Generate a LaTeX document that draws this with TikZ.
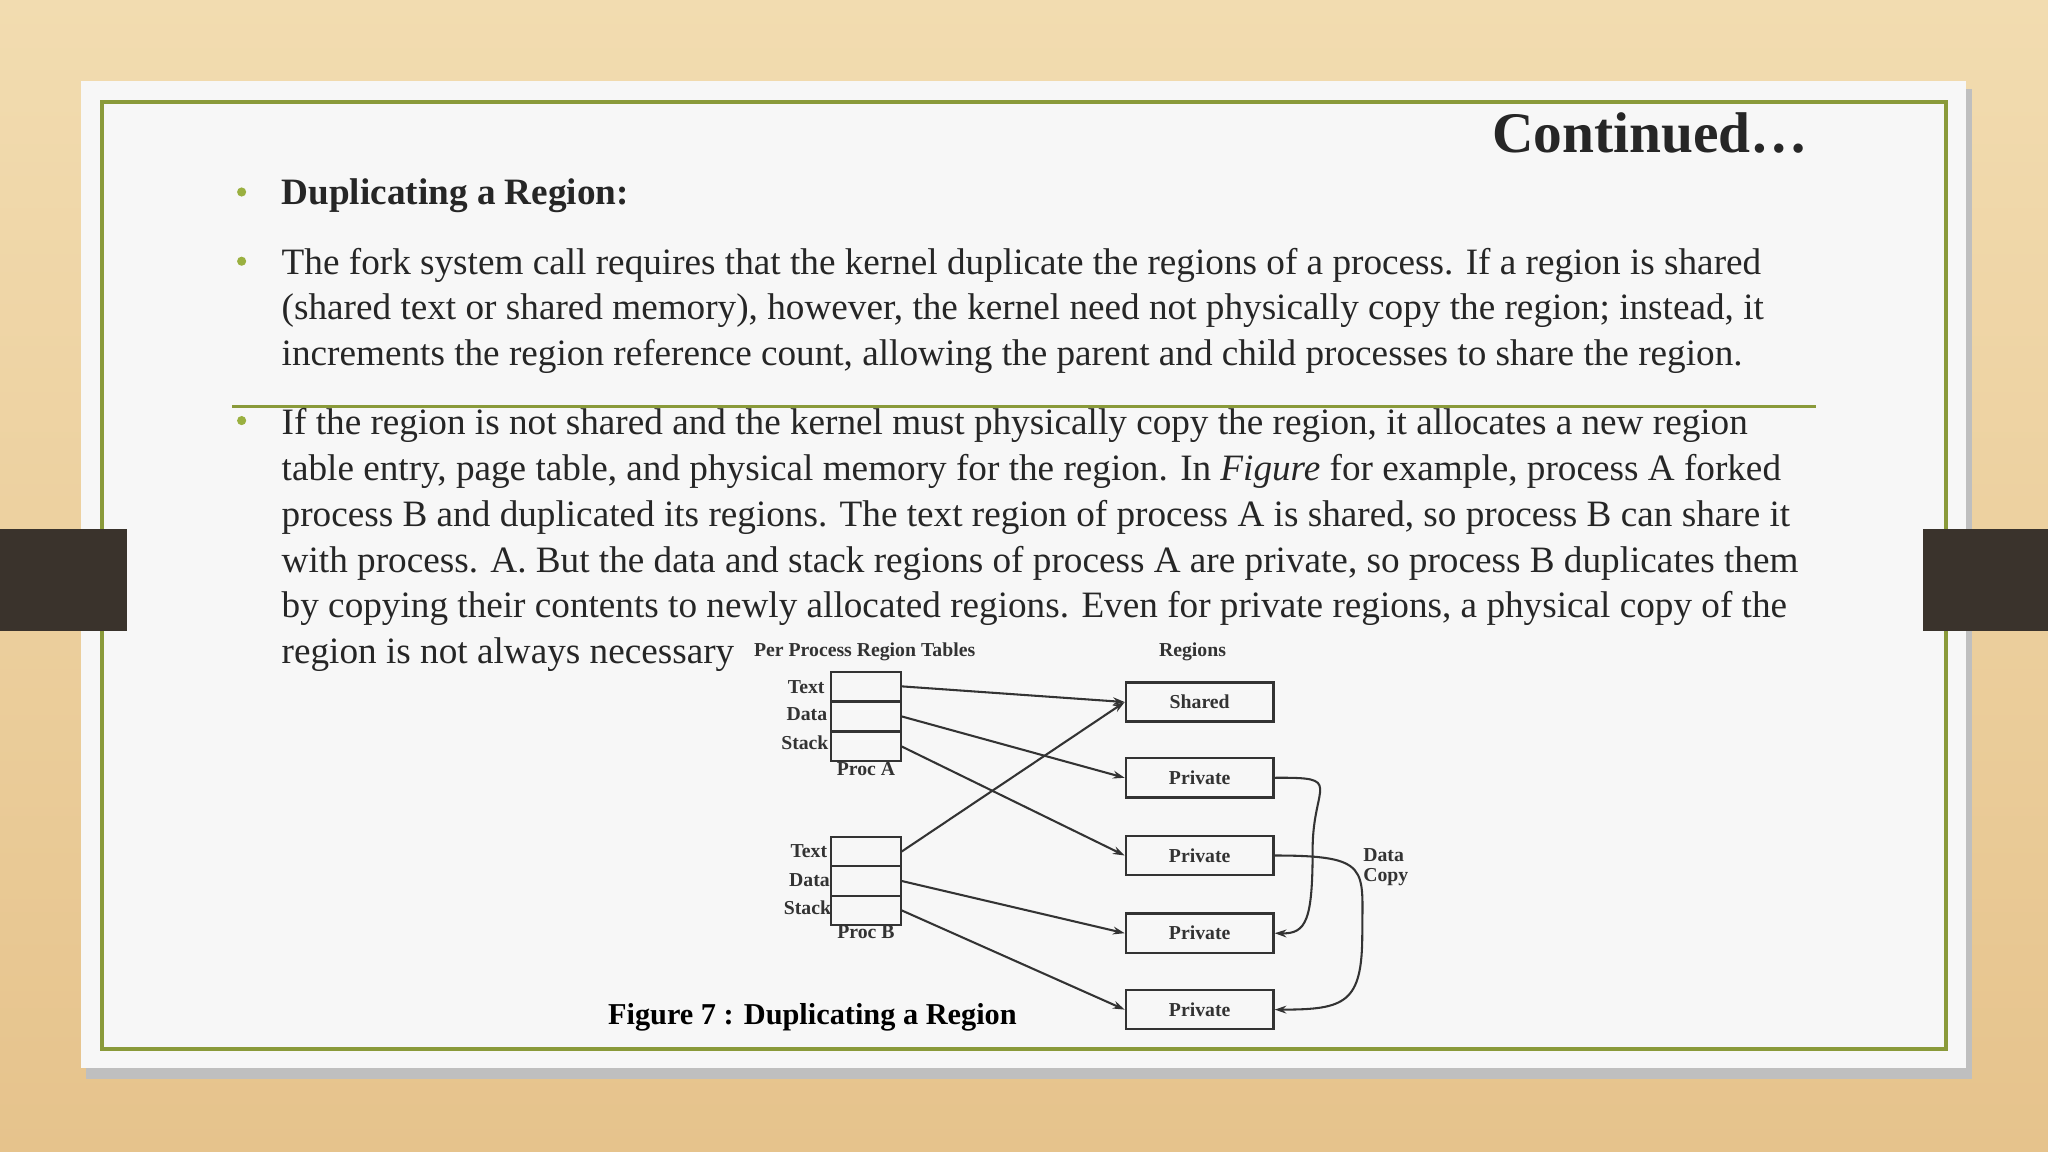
\documentclass[tikz,border=0pt]{standalone}
\usepackage{fontspec}
\setmainfont{Liberation Serif}
\usetikzlibrary{arrows.meta}
\definecolor{wood}{HTML}{E6C38C}
\definecolor{woodl}{HTML}{F2DCB0}
\definecolor{frame}{HTML}{8A9A3A}
\definecolor{bul}{HTML}{9AB040}
\definecolor{tab}{HTML}{3A332C}
\definecolor{txt}{HTML}{262626}
\definecolor{dg}{HTML}{333333}
\tikzset{
  body/.style={anchor=west,inner sep=0pt,font=\fontsize{8.1}{9}\selectfont,text=txt},
  bullet/.style={circle,fill=bul,inner sep=0pt,minimum size=0.07cm},
  lab/.style={inner sep=0pt,font=\bfseries\fontsize{4.3}{5}\selectfont,text=dg},
  cell/.style={draw=dg,line width=0.45pt,minimum width=0.53cm,minimum height=0.225cm,inner sep=0pt},
  reg/.style={draw=dg,line width=0.5pt,minimum width=1.13cm,minimum height=0.3cm,inner sep=0pt,font=\bfseries\fontsize{4.3}{5}\selectfont,text=dg},
  conn/.style={draw=dg,line width=0.45pt,-{Stealth[length=0.09cm,width=0.06cm]}}
}
\begin{document}
\begin{tikzpicture}[x=0.01cm,y=-0.01cm]
\useasboundingbox (0,0) rectangle (1568,882);
\shade[top color=woodl,bottom color=wood] (0,0) rectangle (1568,882);
\fill[black!25] (66,68) rectangle (1510,826);
\fill[white!97!black] (62,62) rectangle (1505,818);
\draw[frame,line width=0.9pt] (78,78) rectangle (1490,803);
\fill[tab] (0,405) rectangle (97,483);
\fill[tab] (1472,405) rectangle (1568,483);
\node[anchor=east,inner sep=0pt,font=\bfseries\fontsize{12.5}{14}\selectfont,text=txt] (title) at (1385,102) {Continued…};
\node[bullet] (b1) at (185,147) {};
\node[body,font=\bfseries\fontsize{8.1}{9}\selectfont] (l0) at (215,150) {Duplicating a Region:};
\node[bullet] (b2) at (185,200) {};
\node[body] (l1) at (215,203) {The fork system call requires that the kernel duplicate the regions of a process. If a region is shared};
\node[body] (l2) at (215,238) {(shared text or shared memory), however, the kernel need not physically copy the region; instead, it};
\node[body] (l3) at (215,273) {increments the region reference count, allowing the parent and child processes to share the region.};
\draw[frame,line width=0.7pt] (178,311) -- (1390,311);
\node[bullet] (b3) at (185,322) {};
\node[body] (m1) at (215,326) {If the region is not shared and the kernel must physically copy the region, it allocates a new region};
\node[body] (m2) at (215,361) {table entry, page table, and physical memory for the region. In \textit{Figure} for example, process A forked};
\node[body] (m3) at (215,396) {process B and duplicated its regions. The text region of process A is shared, so process B can share it};
\node[body] (m4) at (215,431) {with process. A. But the data and stack regions of process A are private, so process B duplicates them};
\node[body] (m5) at (215,466) {by copying their contents to newly allocated regions. Even for private regions, a physical copy of the};
\node[body] (m6) at (215,501) {region is not always necessary};
\fill[black!3] (578,492) rectangle (1080,795);
\node[lab] (hdr1) at (662,499) {Per Process Region Tables};
\node[lab] (hdr2) at (913,499) {Regions};
\node[cell] (at) at (663,525.5) {};
\node[cell] (ad) at (663,548.5) {};
\node[cell] (as) at (663,571.5) {};
\node[cell] (bt) at (663,652) {};
\node[cell] (bd) at (663,674.5) {};
\node[cell] (bs) at (663,697) {};
\node[lab,anchor=east] at (632,526) {Text};
\node[lab,anchor=east] at (634,547) {Data};
\node[lab,anchor=east] at (635,569) {Stack};
\node[lab] (pa) at (663,589) {Proc A};
\node[lab,anchor=east] at (634,652) {Text};
\node[lab,anchor=east] at (636,674) {Data};
\node[lab,anchor=east] at (637,695) {Stack};
\node[lab] (pb) at (663,714) {Proc B};
\node[reg] (sh) at (918.5,537.5) {Shared};
\node[reg] (p1) at (918.5,595.5) {Private};
\node[reg] (p2) at (918.5,655) {Private};
\node[reg] (p3) at (918.5,714.5) {Private};
\node[reg] (p4) at (918.5,773) {Private};
\node[lab,align=left] (dc) at (1061,664) {Data\\[-0.5pt]Copy};
\draw[conn] (at.east) -- (sh.west);
\draw[conn] (ad.east) -- (p1.west);
\draw[conn] (as.east) -- (p2.west);
\draw[conn] (bt.east) -- (sh.west);
\draw[conn] (bd.east) -- (p3.west);
\draw[conn] (bs.east) -- (p4.west);
\draw[conn] (p1.east) .. controls (1030,595) and (1005,600) .. (1005,650) .. controls (1005,705) and (1000,715) .. (p3.east);
\draw[conn] (p2.east) .. controls (1050,655) and (1043,665) .. (1043,715) .. controls (1043,768) and (1030,773) .. (p4.east);
\node[inner sep=0pt,font=\bfseries\fontsize{6.6}{7}\selectfont,text=black] (cap) at (622,779) {Figure 7 : Duplicating a Region};
\end{tikzpicture}
\end{document}
